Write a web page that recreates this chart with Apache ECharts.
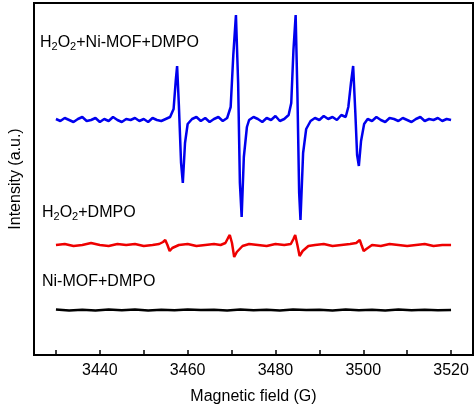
<!DOCTYPE html>
<html><head><meta charset="utf-8">
<script src="https://cdn.jsdelivr.net/npm/echarts@6/dist/echarts.min.js"></script>
<style>html,body{margin:0;padding:0;background:#fff}#c{width:474px;height:410px}</style>
</head><body><div id="c"></div>
<script>
const blueX = [3430,3431,3432,3433,3434,3435,3436,3437,3438,3439,3440,3441,3442,3443,3444,3445,3446,3447,3448,3449,3450,3451,3452,3453,3454,3455,3456,3456.8,3457.3,3457.6,3458,3458.5,3458.9,3459.4,3460,3461,3462,3463,3464,3465,3466,3467,3468,3469,3469.8,3470.4,3471,3471.5,3471.9,3472.3,3472.8,3473.5,3474,3475,3476,3477,3478,3479,3480,3481,3482,3483,3483.6,3484.1,3484.6,3485,3485.4,3485.7,3486.3,3487,3488,3489,3490,3491,3492,3493,3494,3495,3496,3496.6,3497.2,3497.7,3498.2,3498.6,3499,3499.5,3500.2,3501,3502,3503,3504,3505,3506,3507,3508,3509,3510,3511,3512,3513,3514,3515,3516,3517,3518,3519,3520];
const blueY = [236,234,237,235,233,236,238,234,235,237,233,236,234,238,235,233,236,235,237,234,236,233,237,235,234,236,238,246,275,289,250,192,172,212,231,236,238,234,237,233,236,238,234,237,248,300,340,272,172,138,198,228,235,238,236,233,237,235,239,234,236,240,252,305,340,262,162,135,202,226,234,237,235,239,236,238,235,240,238,248,272,289,242,200,189,214,231,236,234,238,235,233,237,236,234,237,235,233,236,238,234,236,235,237,234,236,235];
const redX = [3430,3432,3434,3436,3438,3440,3442,3444,3446,3448,3450,3452,3453.5,3454.4,3454.9,3455.4,3455.9,3456.5,3458,3460,3462,3464,3466,3467.5,3468.6,3469.2,3469.6,3470.1,3470.6,3471.2,3472.5,3474,3476,3478,3480,3482,3483.5,3484.1,3484.5,3485,3485.5,3486.2,3487.5,3489,3491,3493,3495,3497,3498.4,3499.2,3499.6,3500.1,3500.7,3502,3504,3506,3508,3510,3512,3514,3516,3518,3520];
const redY = [110,111,109,110,112,110,109,111,110,111,109,110,111,113,115,110,104,107,110,111,109,110,111,110,112,117,120,112,98,103,109,111,110,109,111,110,111,116,120,110,99,104,109,110,111,109,110,111,112,115,110,104,106,110,109,111,110,109,110,111,109,110,110];
const blackX = [3430,3433,3436,3439,3442,3445,3448,3451,3454,3457,3460,3463,3466,3469,3472,3475,3478,3481,3484,3487,3490,3493,3496,3499,3502,3505,3508,3511,3514,3517,3520];
const blackY = [45.5,44.5,45.2,44.6,45.4,44.8,45.6,44.5,45.3,44.7,45.5,44.9,45.2,44.6,45.6,44.8,45.3,44.5,45.4,44.9,45.2,44.6,45.5,44.8,45.3,44.6,45.4,44.8,45.2,44.7,45.0];
const tickVals = [3430,3440,3450,3460,3470,3480,3490,3500,3510,3520];
const labelVals = [3440,3460,3480,3500,3520];
const seriesNames = ['H2O2+Ni-MOF+DMPO','H2O2+DMPO','Ni-MOF+DMPO'];
const pair = (xs, ys) => xs.map((x, i) => [x, ys[i]]);
const ch = echarts.init(document.getElementById('c'));
const F = 'Liberation Sans, Arial, sans-serif';
const sub = {s:{fontSize:11,verticalAlign:'bottom',padding:[8,0,0,0],fontFamily:F}};
ch.setOption({
  animation:false,
  grid:{left:25,right:1,top:3,bottom:55,show:true,borderColor:'#000',borderWidth:2},
  xAxis:{type:'value',min:3425,max:3525,
    name:'Magnetic field (G)',nameLocation:'middle',nameGap:34,nameTextStyle:{fontFamily:F,fontSize:16,color:'#000'},
    axisLine:{lineStyle:{color:'#000',width:2}},splitLine:{show:false},
    axisTick:{inside:true,length:5,customValues:tickVals,lineStyle:{color:'#000',width:1.5}},
    axisLabel:{customValues:labelVals,formatter:v=>String(v),fontFamily:F,fontSize:16,color:'#000',margin:8}},
  yAxis:{type:'value',min:0,max:352,
    name:'Intensity (a.u.)',nameLocation:'middle',nameGap:10,nameTextStyle:{fontFamily:F,fontSize:16,color:'#000'},
    axisLine:{lineStyle:{color:'#000',width:2}},axisTick:{show:false},axisLabel:{show:false},splitLine:{show:false}},
  series:[
    {name:seriesNames[0],type:'line',data:pair(blueX,blueY),showSymbol:false,lineStyle:{color:'#0000ee',width:2.5}},
    {name:seriesNames[1],type:'line',data:pair(redX,redY),showSymbol:false,lineStyle:{color:'#ee0000',width:2.5}},
    {name:seriesNames[2],type:'line',data:pair(blackX,blackY),showSymbol:false,lineStyle:{color:'#000',width:2.5}}
  ],
  graphic:[
    {type:'text',left:40,top:35,style:{text:'H{s|2}O{s|2}+Ni-MOF+DMPO',font:'16px '+F,fill:'#000',rich:sub}},
    {type:'text',left:42,top:205,style:{text:'H{s|2}O{s|2}+DMPO',font:'16px '+F,fill:'#000',rich:sub}},
    {type:'text',left:42,top:274,style:{text:'Ni-MOF+DMPO',font:'16px '+F,fill:'#000'}}
  ]
});
</script></body></html>
